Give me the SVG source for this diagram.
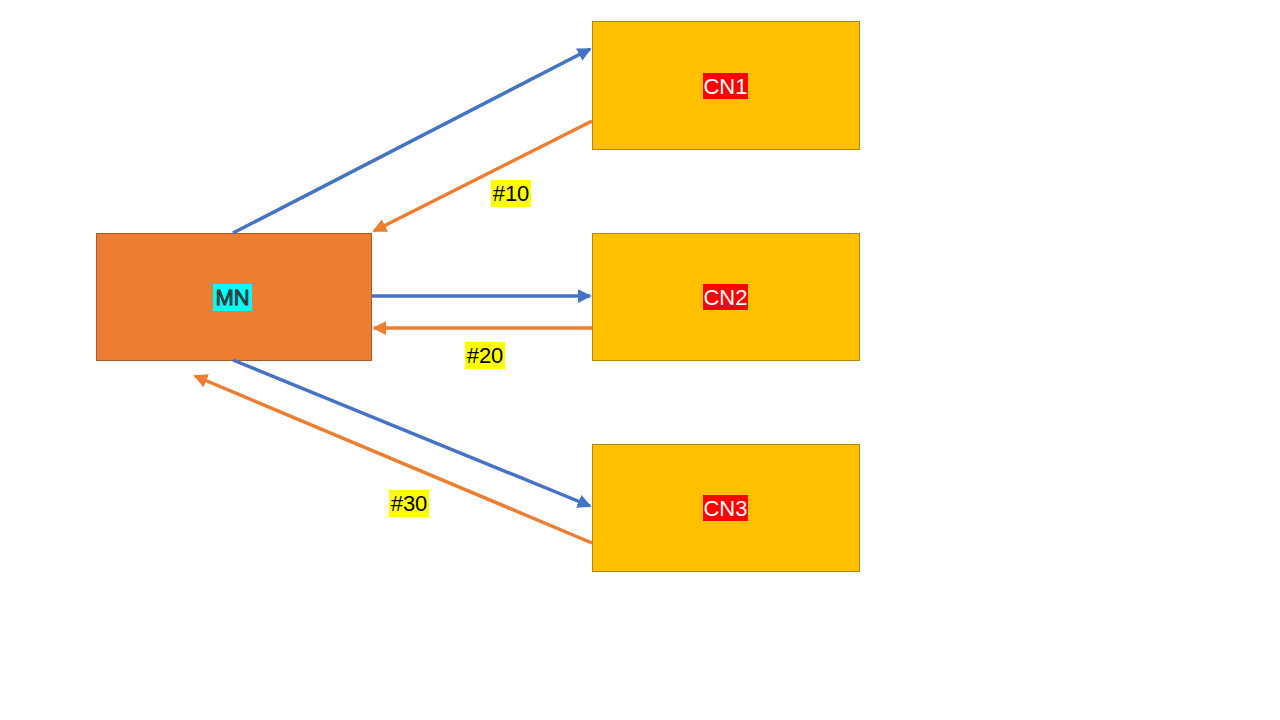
<svg xmlns="http://www.w3.org/2000/svg" width="1280" height="720" viewBox="0 0 1280 720">
<style>
.cn{fill:#FFC000;stroke:#B8860B;stroke-width:1}
.t{font-family:"Liberation Sans",Arial,sans-serif;font-size:22px;text-anchor:middle}
.w{fill:#fff}
.b{stroke:#4472C4;stroke-width:3.5;fill:none;marker-end:url(#ab)}
.o{stroke:#ED7D31;stroke-width:3.5;fill:none;marker-end:url(#ao)}
</style>
<defs>
<marker id="ab" markerWidth="4" markerHeight="4" refX="3.5" refY="2" orient="auto" markerUnits="strokeWidth"><path d="M0,0L4,2L0,4z" fill="#4472C4"/></marker>
<marker id="ao" markerWidth="4" markerHeight="4" refX="3.5" refY="2" orient="auto" markerUnits="strokeWidth"><path d="M0,0L4,2L0,4z" fill="#ED7D31"/></marker>
</defs>
<rect width="1280" height="720" fill="#fff"/>
<g id="MN"><rect x="96.5" y="233.5" width="275" height="127" fill="#ED7D31" stroke="#AE5A21"/>
<rect x="213" y="284" width="39" height="27" fill="#00FFFF"/>
<text x="232.5" y="305" class="t" fill="#555" stroke="#222" stroke-width="0.8">MN</text></g>
<g id="CN1"><rect class="cn" x="592.5" y="21.5" width="267" height="128"/>
<rect x="703" y="73" width="45" height="26" fill="#FF0000"/><text x="725.5" y="94" class="t w">CN1</text></g>
<g id="CN2"><rect class="cn" x="592.5" y="233.5" width="267" height="127"/>
<rect x="703" y="284" width="45" height="26" fill="#FF0000"/><text x="725.5" y="305" class="t w">CN2</text></g>
<g id="CN3"><rect class="cn" x="592.5" y="444.5" width="267" height="127"/>
<rect x="703" y="495" width="45" height="26" fill="#FF0000"/><text x="725.5" y="516" class="t w">CN3</text></g>
<g id="connectors">
<line class="b" x1="233" y1="233" x2="590" y2="49"/>
<line class="o" x1="592" y1="121" x2="374" y2="231"/>
<line class="b" x1="372" y1="296" x2="590" y2="296"/>
<line class="o" x1="592" y1="328" x2="374" y2="328"/>
<line class="b" x1="233" y1="360" x2="590" y2="506"/>
<line class="o" x1="592" y1="543" x2="195" y2="376"/>
</g>
<g id="labels">
<rect x="491" y="180" width="40" height="27" fill="#FFFF00"/><text x="511" y="201" class="t">#10</text>
<rect x="465" y="342" width="40" height="27" fill="#FFFF00"/><text x="485" y="363" class="t">#20</text>
<rect x="389" y="490" width="40" height="27" fill="#FFFF00"/><text x="409" y="511" class="t">#30</text>
</g>
</svg>
